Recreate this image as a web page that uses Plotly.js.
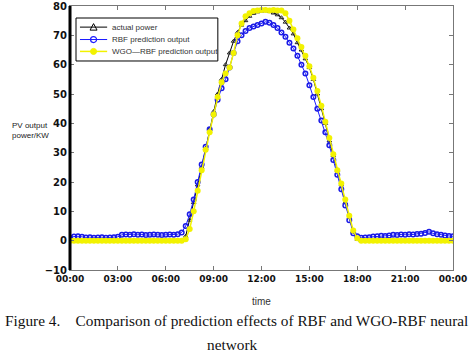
<!DOCTYPE html>
<html>
<head>
<meta charset="utf-8">
<script src="https://cdn.plot.ly/plotly-3.0.1.min.js"></script>
<style>html,body{margin:0;padding:0;background:#fff;}#chart{width:474px;height:353px;}</style>
</head>
<body>
<div id="chart"></div>
<script>
// time of day in hours (15-minute samples)
const hours = [0,0.25,0.5,0.75,1,1.25,1.5,1.75,2,2.25,2.5,2.75,3,3.25,3.5,3.75,4,4.25,4.5,4.75,5,5.25,5.5,5.75,6,6.25,6.5,6.75,
  7,7.25,7.5,7.75,8,8.25,8.5,8.75,9,9.25,9.5,9.75,10,10.25,10.5,10.75,11,11.25,11.5,11.75,12,12.25,12.5,12.75,
  13,13.25,13.5,13.75,14,14.25,14.5,14.75,15,15.25,15.5,15.75,16,16.25,16.5,16.75,17,17.25,17.5,17.75,
  18,18.25,18.5,18.75,19,19.25,19.5,19.75,20,20.25,20.5,20.75,21,21.25,21.5,21.75,22,22.25,22.5,22.75,23,23.25,23.5,23.75,24];

const actualPower = [0,0,0,0,0,0,0,0,0,0,0,0,0,0,0,0,0,0,0,0,0,0,0,0,0,0,0,0,
  0,1.5,7,13,19,25,31.5,38,44,50,55,60,64,68,71,73.5,75,76.5,77.5,78,78.3,78.4,78.1,77.6,
  77,76,74.5,72.5,70.5,67.5,65,62,59,55,50,45,40,34,29,24,19,13,8,3,
  0.5,0,0,0,0,0,0,0,0,0,0,0,0,0,0,0,0,0,0,0,0,0,0,0,0];

const rbfOutput = [1.0,1.4,1.5,1.3,1.1,1.2,1.0,1.1,1.2,1.0,1.1,1.2,1.3,2.0,2.1,2.0,2.2,2.0,2.1,1.9,2.0,2.1,2.0,1.9,2.0,2.1,2.0,2.2,
  2.8,5,9,14,20,26,32,38,43,48,52,55,59,64,68,70,71.5,72.5,73,73.5,74,74.6,74.3,73.5,
  72.5,71,69.5,67.5,65.5,63,60,57,53,49,45,41,37,32.5,27.5,22.5,17.5,12,7,2.5,
  1.5,1.0,1.1,1.2,1.4,1.5,1.7,1.6,1.8,2.0,1.9,2.1,2.0,2.2,2.1,2.3,2.4,2.6,3.0,2.5,2.2,2.0,1.8,1.6,1.5];

const wgoRbfOutput = [0,0,0,0,0,0,0,0,0,0,0,0,0,0,0,0,0,0,0,0,0,0,0,0,0,0,0,0,
  0,0.5,4,10,17,24,31,37,43,49,54,57,59,64,70,74,76.5,77.5,78.3,78.5,78.6,78.6,78.5,78.6,
  78.5,78.5,77.5,75,72,69,66,63,59.5,55.5,51,46,40.5,35,29.5,24,19.5,14,8.5,3.5,
  0.8,0,0,0,0,0,0,0,0,0,0,0,0,0,0,0,0,0,0,0,0,0,0,0,0];

const seriesNames = ['actual power', 'RBF prediction output', 'WGO\u2014RBF prediction output'];
const tickHours = [0,3,6,9,12,15,18,21,24];
const tickLabels = ["00:00","03:00","06:00","09:00","12:00","15:00","18:00","21:00","00:00"];
const yTicks = [-10,0,10,20,30,40,50,60,70,80];

const colors = ['#000000', '#1a1aff', '#f2f200'];

const traces = [
  {x: hours, y: actualPower, name: seriesNames[0], type: 'scatter', mode: 'lines+markers',
   line: {color: colors[0], width: 1}, marker: {symbol: 'triangle-up-open', size: 4, color: '#222', line: {width: 1}}},
  {x: hours, y: rbfOutput, name: seriesNames[1], type: 'scatter', mode: 'lines+markers',
   line: {color: colors[1], width: 1}, marker: {symbol: 'circle-open', size: 4.5, color: '#1a1ae6', line: {width: 1.5}}},
  {x: hours, y: wgoRbfOutput, name: seriesNames[2], type: 'scatter', mode: 'lines+markers',
   line: {color: colors[2], width: 1.5}, marker: {symbol: 'circle', size: 6, color: colors[2]}}
];

// manual legend (paper coords)
const lgX0 = 0.0157, lgX1 = 0.386, lgY0 = 0.7917, lgY1 = 0.9545;
const entryY = [0.920, 0.873, 0.828];
const sx0 = 0.026, sx1 = 0.097, sxm = 0.0615, tx = 0.104;
const shapes = [
  {type: 'line', xref: 'paper', yref: 'paper', x0: 0, x1: 0, y0: 0, y1: 1, line: {color: '#000', width: 3}},
  {type: 'rect', xref: 'paper', yref: 'paper', x0: lgX0, x1: lgX1, y0: lgY0, y1: lgY1,
   line: {color: '#000', width: 1}, fillcolor: '#fff'}
];
const annotations = [];
for (let i = 0; i < 3; i++) {
  shapes.push({type: 'line', xref: 'paper', yref: 'paper', x0: sx0, x1: sx1, y0: entryY[i], y1: entryY[i],
    line: {color: colors[i], width: i === 2 ? 1.5 : 1}});
  annotations.push({text: seriesNames[i], xref: 'paper', yref: 'paper', x: tx, y: entryY[i], xanchor: 'left', yanchor: 'middle',
    showarrow: false, font: {family: 'Liberation Sans, Arial', size: 8, color: '#333'}});
}
// legend marker glyphs
shapes.push({type: 'path', xref: 'paper', yref: 'paper', xsizemode: 'pixel', ysizemode: 'pixel', xanchor: sxm, yanchor: entryY[0],
  path: 'M -3.5 -3 L 3.5 -3 L 0 3.5 Z', line: {color: '#000', width: 1}, fillcolor: 'rgba(0,0,0,0)'});
shapes.push({type: 'circle', xref: 'paper', yref: 'paper', xsizemode: 'pixel', ysizemode: 'pixel', xanchor: sxm, yanchor: entryY[1],
  x0: -3, x1: 3, y0: -3, y1: 3, line: {color: colors[1], width: 1.2}, fillcolor: 'rgba(0,0,0,0)'});
shapes.push({type: 'circle', xref: 'paper', yref: 'paper', xsizemode: 'pixel', ysizemode: 'pixel', xanchor: sxm, yanchor: entryY[2],
  x0: -3, x1: 3, y0: -3, y1: 3, line: {color: colors[2], width: 1}, fillcolor: colors[2]});

annotations.push(
  {text: 'PV output<br>power/KW', xref: 'paper', yref: 'paper', x: -0.157, y: 0.527, xanchor: 'left', yanchor: 'middle',
   align: 'left', showarrow: false, font: {family: 'Liberation Sans, Arial', size: 8, color: '#222'}},
  {text: 'time', xref: 'paper', yref: 'paper', x: 0.501, y: -0.12, xanchor: 'center', yanchor: 'middle',
   showarrow: false, font: {family: 'Liberation Sans, Arial', size: 10, color: '#333'}},
  {text: 'Figure 4.    Comparison of prediction effects of RBF and WGO-RBF neural', xref: 'paper', yref: 'paper',
   x: 0.436, y: -0.19, xanchor: 'center', yanchor: 'middle', showarrow: false,
   font: {family: 'Liberation Serif, Times New Roman', size: 15.3, color: '#111'}},
  {text: 'network', xref: 'paper', yref: 'paper',
   x: 0.423, y: -0.282, xanchor: 'center', yanchor: 'middle', showarrow: false,
   font: {family: 'Liberation Serif, Times New Roman', size: 15.3, color: '#111'}}
);

const layout = {
  width: 474, height: 353,
  margin: {l: 70, r: 21, t: 6, b: 83},
  paper_bgcolor: '#ffffff', plot_bgcolor: '#ffffff',
  showlegend: false,
  xaxis: {range: [0, 24], tickvals: tickHours, ticktext: tickLabels, showgrid: false, zeroline: false,
    showline: true, linecolor: '#777', linewidth: 1, mirror: 'ticks', ticks: 'inside', ticklen: 4, tickcolor: '#777',
    ticklabeloverflow: 'allow',
    tickfont: {family: 'DejaVu Sans', size: 9, weight: 'bold', color: '#111'}},
  yaxis: {range: [-10, 80], tickvals: yTicks, showgrid: false, zeroline: false,
    showline: true, linecolor: '#777', linewidth: 1, mirror: 'ticks', ticks: 'inside', ticklen: 4, tickcolor: '#777',
    ticklabeloverflow: 'allow',
    tickfont: {family: 'DejaVu Sans', size: 10, weight: 'bold', color: '#111'}},
  shapes: shapes,
  annotations: annotations
};

Plotly.newPlot('chart', traces, layout, {displayModeBar: false, staticPlot: true});
</script>
</body>
</html>
